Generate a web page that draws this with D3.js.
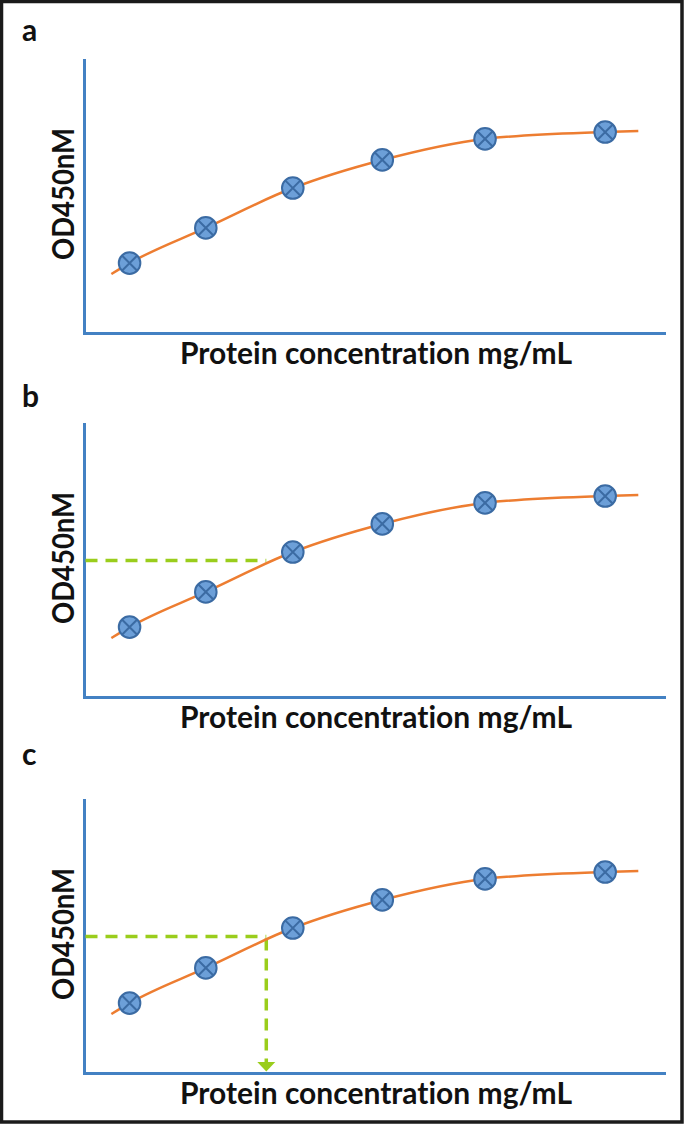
<!DOCTYPE html>
<html>
<head>
<meta charset="utf-8">
<script src="https://cdn.jsdelivr.net/npm/d3@7"></script>
<style>
  html, body { margin: 0; padding: 0; background: #fff; }
  svg { display: block; }
  text { font-family: Lato, "Open Sans", sans-serif; font-weight: 700; fill: #111;
         font-variant-ligatures: none; font-feature-settings: "liga" 0, "clig" 0; }
</style>
</head>
<body>
<svg id="chart" width="685" height="1124"></svg>
<script>
// ---- data ----
const panels = ["a", "b", "c"];
const concentration = [0.55, 1.47, 2.52, 3.6, 4.84, 6.29];     // marker x values
const od450 = [0.256, 0.385, 0.531, 0.634, 0.711, 0.736];       // marker y values
const curveConc = [0.33, 0.55, 1.47, 2.52, 3.6, 4.84, 6.29, 6.69]; // fitted curve x
const curveOD = [0.216, 0.256, 0.385, 0.531, 0.634, 0.711, 0.736, 0.740]; // fitted curve y
const targetOD = [null, 0.5, 0.5];        // horizontal read-off per panel
const targetConc = [null, 2.2, 2.2];      // x where read-off meets curve
const showDrop = [false, false, true];    // vertical arrow to x axis
const yLabel = "OD450nM";
const xLabel = "Protein concentration mg/mL";

// ---- layout ----
const W = 685, H = 1124;
const panelOffset = [0, 364, 740];
const labelBaseline = [41, 407, 765];
const plotLeft = 84, plotRight = 664, plotTop = 60, plotBottom = 333;

const svg = d3.select("#chart");
svg.append("rect").attr("width", W).attr("height", H).attr("fill", "#fff");

const x = d3.scaleLinear().domain([0, 7]).range([plotLeft, plotRight]);
const y = d3.scaleLinear().domain([0, 1]).range([plotBottom, plotTop]);

const axisColor = "#4381C3";
const orange = "#ED7D31";
const green = "#9ACD1C";

panels.forEach((p, i) => {
  const g = svg.append("g").attr("transform", `translate(0,${panelOffset[i]})`);

  // panel letter
  svg.append("text").attr("x", 22).attr("y", labelBaseline[i])
    .attr("font-size", 30).text(p);

  // axes (no ticks)
  const xAxis = d3.axisBottom(x).tickValues([]).tickSizeOuter(0);
  const yAxis = d3.axisLeft(y).tickValues([]).tickSizeOuter(0);
  const gx = g.append("g").attr("transform", `translate(0,${plotBottom})`).call(xAxis);
  const gy = g.append("g").attr("transform", `translate(${plotLeft},0)`).call(yAxis);
  [gx, gy].forEach(a => a.select(".domain")
    .attr("stroke", axisColor).attr("stroke-width", 3).attr("stroke-linecap", "square"));

  // axis labels
  g.append("text").attr("x", 180).attr("y", 364)
    .attr("font-size", 29.5).attr("textLength", 392).attr("lengthAdjust", "spacingAndGlyphs")
    .text(xLabel);
  g.append("text").attr("transform", `translate(73.5,260) rotate(-90)`)
    .attr("font-size", 30).attr("textLength", 132).attr("lengthAdjust", "spacingAndGlyphs")
    .text(yLabel);

  // read-off dashed lines
  if (targetOD[i] !== null) {
    g.append("line")
      .attr("x1", plotLeft + 1.5).attr("x2", x(targetConc[i]))
      .attr("y1", y(targetOD[i])).attr("y2", y(targetOD[i]))
      .attr("stroke", green).attr("stroke-width", 3.5).attr("stroke-dasharray", "12,8");
  }
  if (showDrop[i]) {
    const cx = x(targetConc[i]);
    g.append("line")
      .attr("x1", cx).attr("x2", cx)
      .attr("y1", y(targetOD[i]) + 2).attr("y2", plotBottom - 10)
      .attr("stroke", green).attr("stroke-width", 3.5).attr("stroke-dasharray", "12,8");
    g.append("path")
      .attr("d", `M${cx - 9},${plotBottom - 11}L${cx + 9},${plotBottom - 11}L${cx},${plotBottom - 1.5}Z`)
      .attr("fill", green);
  }

  // fitted curve
  const pts = curveConc.map((c, k) => [c, curveOD[k]]);
  g.append("path").datum(pts)
    .attr("d", d3.line().x(d => x(d[0])).y(d => y(d[1])).curve(d3.curveMonotoneX))
    .attr("fill", "none").attr("stroke", orange).attr("stroke-width", 2.5);

  // markers
  const r = 10.8, d = r * 0.7071;
  const m = g.selectAll("g.marker").data(concentration.map((c, k) => [c, od450[k]]))
    .join("g").attr("class", "marker")
    .attr("transform", v => `translate(${x(v[0])},${y(v[1])})`);
  m.append("circle").attr("r", r)
    .attr("fill", "#6C9FD8").attr("stroke", "#3B6BA3").attr("stroke-width", 2);
  m.append("path").attr("d", `M${-d},${-d}L${d},${d}M${d},${-d}L${-d},${d}`)
    .attr("stroke", "#3B6BA3").attr("stroke-width", 2);
});

// outer frame
svg.append("rect").attr("x", 1.5).attr("y", 1.5).attr("width", W - 4.5).attr("height", H - 3.5)
  .attr("fill", "none").attr("stroke", "#1b1b1b").attr("stroke-width", 3.5);
</script>
</body>
</html>
